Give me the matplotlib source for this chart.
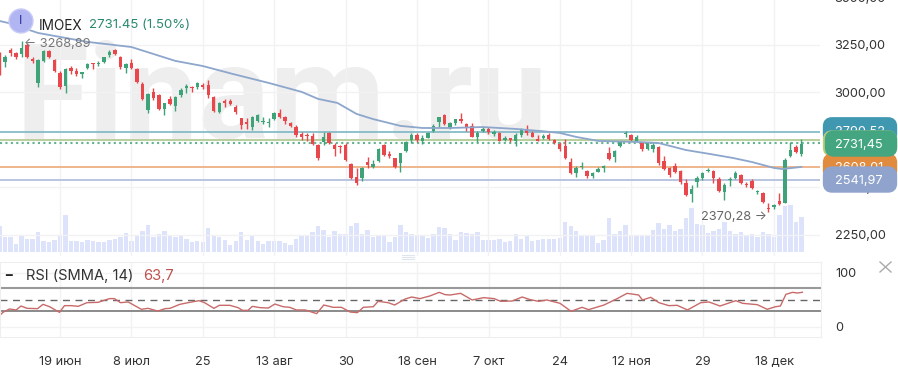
import numpy as np
import matplotlib
matplotlib.use('Agg')
import matplotlib.pyplot as plt
from matplotlib.patches import FancyBboxPatch, Circle
from matplotlib.ticker import FuncFormatter

plt.rcParams['font.family'] = ['Inter', 'DejaVu Sans']

# candles, price
opens = [3189,3159,3224,3210,3201,3250,3175,3048,3168,3220,3171,3104,3034,3127,3113,3097,3127,3153,3150,3159,
         3197,3224,3189,3127,3157,3122,3045,2908,3001,2989,2911,2964,2929,2987,3022,3027,3027,3039,3039,2978,
         2899,2955,2957,2926,2864,2845,2818,2850,2845,2840,2860,2892,2871,2840,2818,2780,2776,2771,2724,2741,
         2788,2724,2715,2724,2622,2554,2548,2636,2610,2641,2724,2676,2654,2627,2692,2750,2776,2746,2762,2799,
         2843,2882,2815,2838,2860,2833,2824,2767,2799,2808,2780,2785,2750,2759,2746,2776,2808,2788,2754,2759,
         2776,2750,2727,2720,2636,2575,2606,2587,2560,2583,2604,2683,2659,2720,2780,2776,2746,2736,2701,2703,
         2715,2639,2601,2615,2587,2522,2466,2527,2548,2585,2588,2543,2478,2539,2548,2566,2518,2534,2478,2473,
         2394,2399,2429,2420,2666,2715,2675]
highs = [3215,3197,3236,3215,3269,3259,3189,3175,3224,3224,3175,3115,3127,3141,3127,3110,3157,3157,3166,3189,
         3224,3229,3192,3157,3175,3127,3057,2996,3022,2992,2947,2982,2982,3022,3045,3034,3057,3048,3066,2982,
         2952,2966,2964,2934,2868,2866,2876,2887,2871,2866,2897,2913,2876,2845,2829,2794,2787,2787,2729,2794,
         2794,2733,2724,2733,2627,2601,2606,2662,2645,2706,2729,2694,2657,2683,2746,2785,2788,2776,2794,2834,
         2873,2885,2846,2862,2890,2838,2838,2799,2817,2820,2803,2791,2771,2759,2785,2815,2829,2797,2776,2780,
         2788,2755,2741,2754,2654,2613,2636,2592,2583,2606,2618,2715,2697,2741,2799,2782,2776,2741,2740,2738,
         2718,2666,2610,2627,2592,2543,2513,2562,2583,2601,2592,2554,2522,2554,2588,2571,2531,2543,2487,2478,
         2417,2412,2470,2654,2741,2724,2754]
lows = [3092,3136,3192,3175,3189,3180,3153,3031,3162,3180,3110,3017,2996,3097,3087,3078,3124,3125,3141,3153,
        3185,3196,3124,3101,3122,3052,2961,2894,2961,2908,2880,2934,2904,2978,2996,3004,3017,3017,2969,2899,
        2890,2926,2934,2887,2808,2808,2803,2845,2834,2818,2855,2866,2834,2818,2766,2750,2746,2724,2645,2724,
        2727,2666,2680,2639,2543,2513,2536,2604,2601,2636,2666,2657,2604,2580,2687,2733,2741,2727,2759,2794,
        2817,2829,2806,2829,2838,2797,2764,2741,2794,2780,2771,2745,2746,2741,2718,2767,2776,2764,2745,2755,
        2750,2727,2694,2652,2570,2554,2596,2548,2548,2580,2583,2645,2636,2715,2767,2746,2741,2694,2697,2688,
        2618,2592,2554,2578,2517,2455,2422,2501,2539,2583,2522,2478,2434,2509,2543,2517,2501,2491,2466,2417,
        2370,2385,2408,2417,2662,2680,2666]
closes = [3139,3189,3206,3189,3236,3185,3168,3171,3220,3185,3115,3027,3122,3115,3097,3106,3150,3150,3157,3185,
          3215,3201,3132,3148,3127,3057,2964,2992,2969,2913,2943,2940,2978,3013,3034,3022,3048,3031,2987,2904,
          2947,2943,2940,2899,2829,2834,2871,2882,2850,2845,2892,2871,2850,2824,2776,2767,2771,2729,2655,2767,
          2733,2701,2712,2645,2548,2525,2601,2618,2622,2701,2671,2667,2610,2680,2741,2776,2750,2759,2785,2824,
          2869,2833,2838,2859,2852,2820,2767,2785,2806,2794,2792,2746,2759,2750,2776,2806,2788,2767,2746,2771,
          2754,2733,2701,2657,2575,2604,2615,2562,2575,2596,2615,2648,2694,2738,2785,2750,2764,2701,2738,2724,
          2627,2596,2566,2583,2531,2461,2491,2548,2575,2588,2548,2483,2513,2545,2578,2522,2511,2496,2483,2425,
          2385,2408,2413,2645,2697,2689,2731]
volumes = [26,15,15,8,16,13,13,20,11,10,12,17,37,11,11,10,12,11,10,10,
           12,13,15,19,11,16,21,27,15,18,21,16,15,16,13,10,11,10,24,17,
           15,12,7,11,20,12,16,11,8,11,11,11,9,7,13,17,16,20,26,22,
           15,21,18,18,26,29,18,22,15,17,16,10,15,27,20,18,16,16,14,18,
           25,24,18,12,20,19,18,20,12,12,12,13,10,11,18,13,17,11,12,13,
           13,13,14,30,26,21,16,17,17,9,12,34,18,21,27,17,17,17,16,22,
           29,23,27,21,23,34,44,28,27,19,21,23,30,21,18,20,16,18,15,20,
           18,15,37,46,47,30,35]

ma_idx = [0,1.5,7,16,24,32,37,42.5,49,55,58,61.5,65,68,73,77,82,88,94,98.5,102,105,109,116.6,120,125,129.4,133.6,137,141,142.5,146]
ma_val = [3376,3366,3313,3266,3239,3166,3139,3097,3050,3003,2966,2945,2887,2860,2824,2813,2813,2818,2808,2797,2787,2766,2745,2739,2734,2697,2676,2655,2634,2603,2597,2608]

rsi_idx = [0,0.6,1.8,3,3.9,5,6.9,7.9,9.1,10.9,11.8,13.1,14.3,15.9,17.9,20,20.9,22,23.4,25.8,27,28.8,30.1,31,32.8,34.6,36.3,37.3,39,40,
           41.9,43.4,44.2,45.2,46,47.4,48.9,50.1,51.6,52.8,54,55.6,57.7,59,60.7,62.2,63.8,65.1,66.2,68,68.9,70.7,71.9,73.8,75,76.5,78.3,80,81.1,82,
           83.9,86,88.1,90,91.2,93.3,95.1,96.6,98.1,99.6,102,104,106,107.2,110,112.4,114.2,116.3,117,118.5,120,121.8,123.3,125.2,127.6,129.1,131.1,134,135.2,137.9,
           139.7,141.2,142.1,143.1,144.3,145.2,146.1]
rsi_val = [20.4,26.6,32.8,31,38.3,34,33.4,41.4,37,26.6,39,39,37.7,44.5,45.1,52,52,44.5,45.8,32.2,34,29,33.4,34,41.4,45.1,48.2,44.5,34,39.6,
           39.6,35.3,30.3,30.3,37.7,35.3,34.6,42,37,35.9,31,31,24.2,40.2,35.9,35.9,27.2,26,35.9,37,47,44.5,40.2,51.3,55,52,56.9,63.6,59.3,58.7,
           61.8,49.5,53.8,52,47,47.6,55,50,47,49.5,43.3,28.5,35.9,31.6,40.2,52,61.8,58.7,49.5,54.4,44.5,39,39.6,31,44.5,45.8,38.3,48.2,43.3,40.8,
           32.2,37,38.3,59.9,63.6,62.4,63.7]

price_ticks = [2250,2500,2750,3000,3250,3500]
date_ticks = [11,24,37,50,63,76,89,102,115,128,141]
date_labels = ['19 июн','8 июл','25','13 авг','30','18 сен','7 окт','24','12 ноя','29','18 дек']
rsi_ticks = [0,100]
rsi_levels = [72,50,30]

UP = '#3fa37a'
DOWN = '#e8474c'
GRID = '#f2f2f4'
W, H = 898, 384

def box(left, top, right, bottom):
    return [left/W, 1-bottom/H, (right-left)/W, (bottom-top)/H]

fig = plt.figure(figsize=(W/100, H/100), dpi=100)
fig.text(15/W, 1-139/H, 'Finam.ru', fontsize=96, fontweight='bold', color='#eeeeee',
         family=['Roboto','DejaVu Sans'], zorder=-1)

# volume pane shares the price pane's box, 1 unit is one pixel here
vol = fig.add_axes(box(0,-10,820,256))
vol.set_xlim(0.07,149.4)
vol.set_ylim(-4,262)
vol.patch.set_visible(False)
vol.axis('off')
x = np.arange(len(opens))
vol.bar(x, volumes, width=0.8, color='#dde3fb', zorder=1)

ax = fig.add_axes(box(0,-10,820,256))
ax.patch.set_visible(False)
ax.set_xlim(0.07,149.4)
ax.set_ylim(2139.5,3539)
ax.set_xticks(date_ticks)
ax.set_xticklabels([])
ax.set_yticks(price_ticks)
ax.yaxis.tick_right()
ax.yaxis.set_major_formatter(FuncFormatter(lambda v, p: f'{v:.2f}'.replace('.',',')))
ax.tick_params(length=0, labelsize=9.2, labelcolor='#333333', pad=10.5)
ax.grid(color=GRID, lw=1)
ax.set_axisbelow(True)
for s in ax.spines.values():
    s.set_visible(False)

o, h, l, c = map(np.array, (opens, highs, lows, closes))
colors = [UP if b >= a else DOWN for a, b in zip(o, c)]
ax.vlines(x, l, h, colors=colors, lw=1, zorder=3)
ax.bar(x, np.clip(np.abs(c-o), 5, None), bottom=np.minimum(o, c), width=0.62, color=colors, zorder=3)

ax.plot(ma_idx, ma_val, color='#8da6cc', lw=1.3, zorder=4)
ax.axhline(2790.52, color='#7db6c6', lw=1.4, alpha=0.85, zorder=2)
ax.axhline(2750, color='#b9cf9c', lw=1.4, zorder=2)
ax.axhline(2731.45, color='#5fb58f', lw=1.5, ls=(0,(1,1.6)), zorder=2)
ax.axhline(2608.01, color='#efb68c', lw=1.4, zorder=2)
ax.axhline(2541.97, color='#b9c5e0', lw=1.4, zorder=2)

ax.annotate('← 3268,89', xy=(4.4, 3268.89), xytext=(0, -2), textcoords='offset points',
            fontsize=9.2, color='#777777', va='center', zorder=5)
ax.annotate('2370,28 →', xy=(139.8, 2370.28), xytext=(0, -3.5), textcoords='offset points',
            fontsize=9.2, color='#666666', ha='right', va='center', zorder=5)

# rsi pane
rs = fig.add_axes(box(0,262,820.5,336.7))
rs.set_xlim(0.07,149.4)
rs.set_ylim(-18.5,119.8)
rs.set_xticks(date_ticks)
rs.set_xticklabels(date_labels)
rs.set_yticks(rsi_ticks)
rs.yaxis.tick_right()
rs.tick_params(length=0, labelsize=9.2, labelcolor='#333333')
rs.tick_params(axis='x', pad=14)
rs.tick_params(axis='y', pad=10.5)
rs.grid(color=GRID, lw=1)
rs.set_axisbelow(True)
for s in rs.spines.values():
    s.set_color('#eeeeee')
rs.axhline(rsi_levels[0], color='#999999', lw=1.5)
rs.axhline(rsi_levels[1], color='#666666', lw=1, ls=(0,(5,4)))
rs.axhline(rsi_levels[2], color='#777777', lw=1.2)
rs.plot(rsi_idx, rsi_val, color='#c96a6a', lw=1.0)

# overlay for labels, in pixels
ov = fig.add_axes([0,0,1,1], zorder=5)
ov.set_xlim(0,W)
ov.set_ylim(H,0)
ov.axis('off')
ov.patch.set_visible(False)

def py(price):
    return 256-(price-2139.5)*0.19

def price_box(val, color, text, layer, dy=0, left=824):
    yc = py(val)+dy
    ov.add_patch(FancyBboxPatch((left+3, yc-9), 66-(left-824), 18, boxstyle='round,pad=0,rounding_size=5',
                                mutation_aspect=1, fc=color, ec=color, lw=6, zorder=layer))
    if text:
        ov.text(835, yc+1.3, text, color='white', fontsize=9.2, va='center', zorder=layer+0.5)

price_box(2790.52, '#3f97b0', '2790,52', 10, -2)
price_box(2750, '#b8cc7a', '', 11, 3.5)
price_box(2608.01, '#e08b3e', '2608,01', 12, -0.5)
price_box(2731.45, '#43a680', '2731,45', 13, 0, 826)
price_box(2541.97, '#8fa3cc', '2541,97', 14, 0)

ov.add_patch(Circle((21,21), 12, fc='#b1b5f2', ec='#c9ccf6', lw=1))
ov.text(21, 21.5, 'I', color='#2a2fa0', fontsize=9, ha='center', va='center')
ov.text(39, 25.5, 'IMOEX', color='#222222', fontsize=9.8, va='center')
ov.text(89, 25.5, '2731.45 (1.50%)', color='#2b8a6e', fontsize=9.5, va='center')
ov.text(5, 276, '━', color='#222222', fontsize=8, va='center')
ov.text(26, 276, 'RSI (SMMA, 14)', color='#333333', fontsize=10.6, va='center')
ov.text(143, 276, '63,7', color='#c0504d', fontsize=10.6, va='center')
ov.plot([880,891],[262,272], color='#aaaaaa', lw=1)
ov.plot([880,891],[272,262], color='#aaaaaa', lw=1)
for yy in (255,257,259):
    ov.plot([402,414],[yy,yy], color='#dfe6ee', lw=0.8)

fig.savefig('out.png', dpi=100)
